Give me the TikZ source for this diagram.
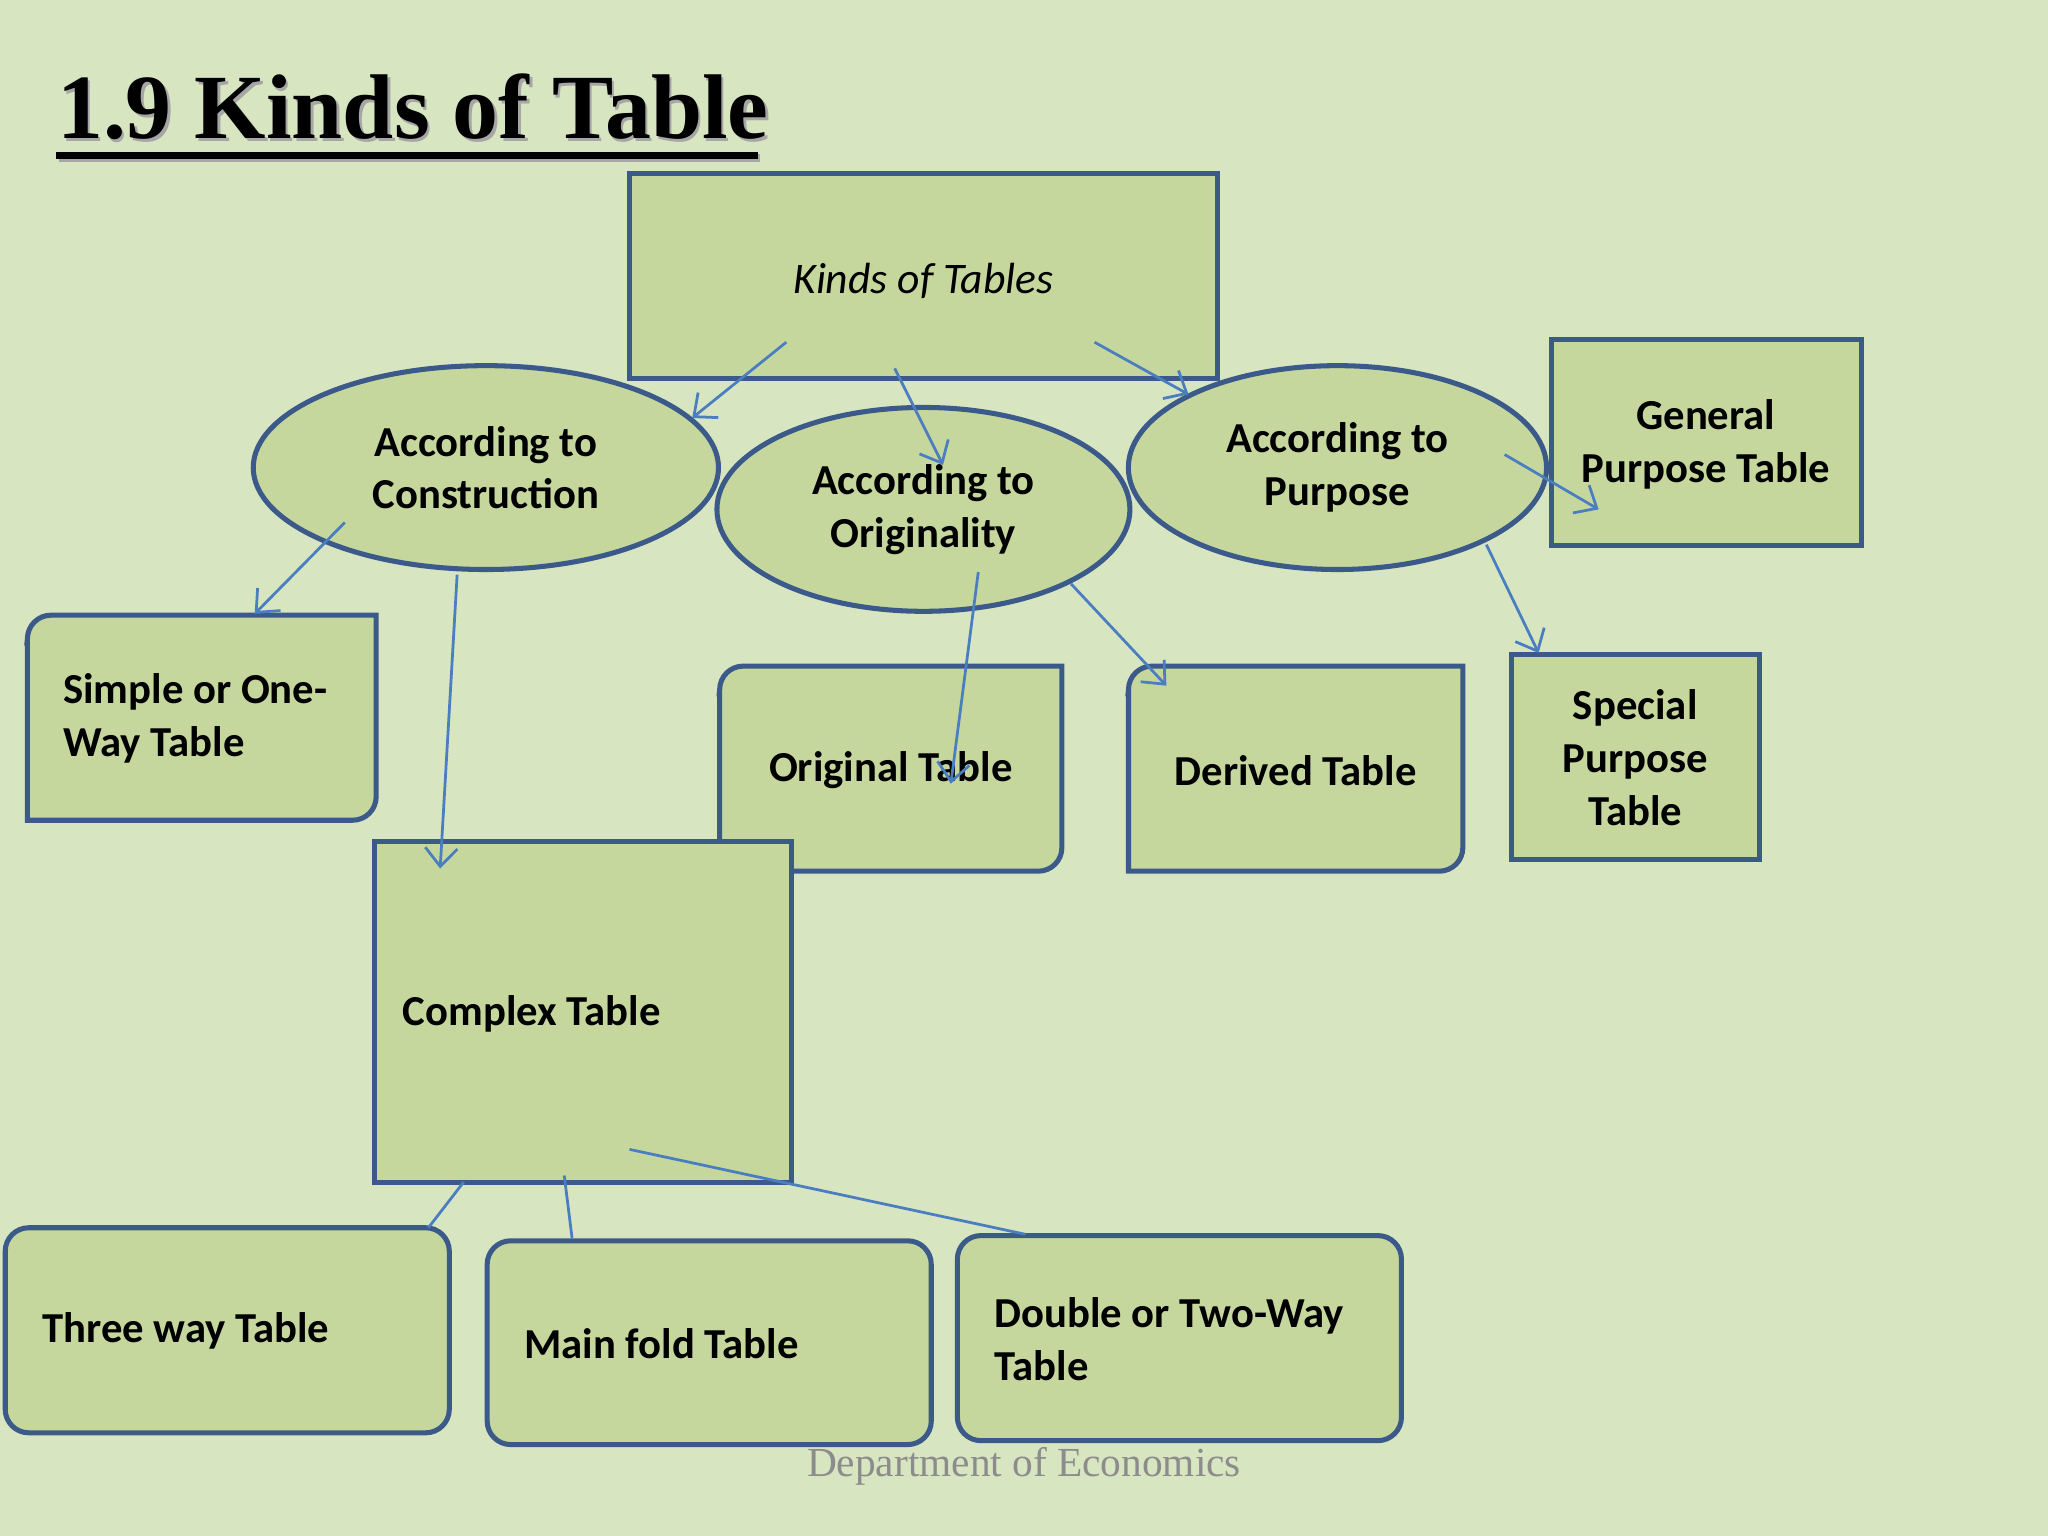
\documentclass[tikz,border=0pt]{standalone}
\usepackage{fontspec}
\setmainfont{Carlito}
\newfontfamily\titlefont{Liberation Serif}
\usetikzlibrary{shapes.geometric,arrows.meta}
\definecolor{bg}{HTML}{D8E5C1}
\definecolor{boxf}{HTML}{C6D79E}
\definecolor{bord}{HTML}{3B5A8A}
\definecolor{arr}{HTML}{4A7EC0}
\tikzset{
  bx/.style={draw=bord,line width=1.1pt,fill=boxf},
  lbl/.style={font=\fontsize{9.3}{11.5}\selectfont\bfseries,align=center},
  lbll/.style={font=\fontsize{9.3}{11.5}\selectfont\bfseries,align=left,anchor=west},
  con/.style={draw=arr,line width=0.6pt,-{Straight Barb[length=4pt,width=7pt]}},
  ln/.style={draw=arr,line width=0.6pt}
}
\newcommand{\rbox}[5]{% x1 y1 x2 y2 name : rounded TL and BR
  \draw[bx] (#1,-#2-18) -- (#1,-#4) -- (#3-18,-#4) arc(-90:0:0.18cm) -- (#3,-#2) -- (#1+18,-#2) arc(90:180:0.18cm) -- cycle;
  \coordinate (#5) at ({(#1+#3)/2},{-(#2+#4)/2});}
\begin{document}
\begin{tikzpicture}[x=0.01cm,y=0.01cm]
\fill[bg] (0,0) rectangle (1568,-1176);
\useasboundingbox (0,0) rectangle (1568,-1176);
% title
\node[anchor=west,font=\titlefont\bfseries\fontsize{20}{24}\selectfont,text=black!35,inner sep=0] at (45,-84) {1.9 Kinds of Table};
\node[anchor=west,font=\titlefont\bfseries\fontsize{20}{24}\selectfont,inner sep=0] (title) at (43,-82) {1.9 Kinds of Table};
\draw[line width=1.6pt,black!35] (45,-121) -- (582,-121);
\draw[line width=1.6pt] (43,-119) -- (580,-119);
% top box
\draw[bx] (482,-133) rectangle (932,-290);
\node[font=\itshape\fontsize{9.5}{11}\selectfont] (kt) at (707,-215) {Kinds of Tables};
% ellipses
\node[bx,ellipse,inner sep=0,minimum width=3.56cm,minimum height=1.56cm,lbl] (ac) at (372,-358) {According to\\Construction};
\node[bx,ellipse,inner sep=0,minimum width=3.16cm,minimum height=1.56cm,lbl] (ao) at (707,-390) {According to\\Originality};
\node[bx,ellipse,inner sep=0,minimum width=3.2cm,minimum height=1.56cm,lbl] (ap) at (1024,-358) {According to\\Purpose};
% boxes
\draw[bx] (1188,-260) rectangle (1425,-418);
\node[lbl] (gp) at (1306,-340) {General\\Purpose Table};
\rbox{21}{471}{288}{628}{sc}
\node[lbll] (st) at (36,-550) {Simple or One-\\Way Table};
\rbox{551}{510}{813}{667}{oc}
\rbox{864}{510}{1120}{667}{dc}
\node[lbl] (dt) at (992,-590) {Derived Table};
\draw[bx] (1157,-501) rectangle (1347,-658);
\node[lbl] (sp) at (1252,-580) {Special\\Purpose\\Table};
\draw[bx] (287,-644) rectangle (606,-905);
\node[lbll] (ct) at (296,-776) {Complex Table};
\node[lbl] (ot) at (682,-590) {Original Table};
\draw[bx,rounded corners=0.18cm] (4,-940) rectangle (344,-1097);
\node[lbll] (tw) at (20,-1019) {Three way Table};
\draw[bx,rounded corners=0.18cm] (373,-950) rectangle (713,-1106);
\node[lbll] (mf) at (389,-1029) {Main fold Table};
\draw[bx,rounded corners=0.18cm] (733,-946) rectangle (1073,-1103);
\node[lbll] (db) at (749,-1025) {Double or Two-Way\\Table};
\node[font=\titlefont\fontsize{9}{10}\selectfont,text=black!45] (ft) at (784,-1123) {Department of Economics};
% connectors
\coordinate (a1) at (602,-262); \coordinate (b1) at (530,-320);
\coordinate (a2) at (685,-282); \coordinate (b2) at (722,-356);
\coordinate (a3) at (838,-262); \coordinate (b3) at (910,-302);
\coordinate (a4) at (264,-400); \coordinate (b4) at (195,-470);
\coordinate (a5) at (350,-440); \coordinate (b5) at (337,-665);
\coordinate (a6) at (749,-438); \coordinate (b6) at (728,-600);
\coordinate (a7) at (820,-447); \coordinate (b7) at (893,-525);
\coordinate (a8) at (1152,-348); \coordinate (b8) at (1224,-390);
\coordinate (a9) at (1138,-417); \coordinate (b9) at (1178,-500);
\foreach \i in {1,...,9} {\draw[con] (a\i) -- (b\i);}
\coordinate (c1) at (355,-905); \coordinate (d1) at (328,-940);
\coordinate (c2) at (432,-900); \coordinate (d2) at (438,-948);
\coordinate (c3) at (482,-880); \coordinate (d3) at (785,-945);
\foreach \i in {1,2,3} {\draw[ln] (c\i) -- (d\i);}
\end{tikzpicture}
\end{document}
